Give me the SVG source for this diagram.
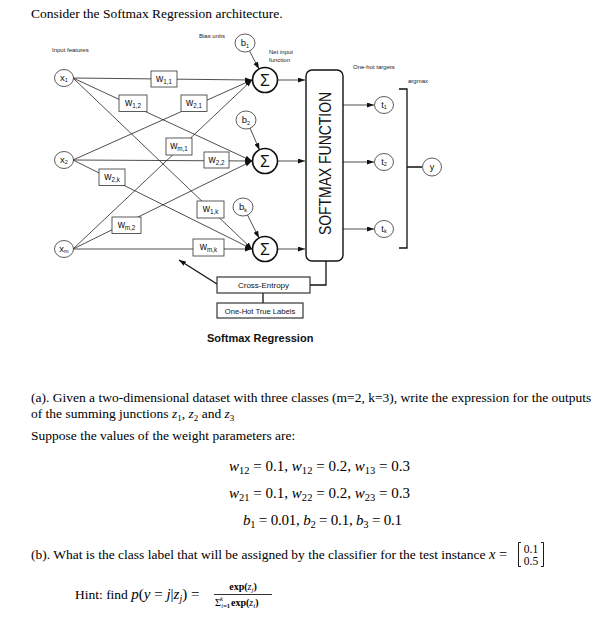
<svg xmlns="http://www.w3.org/2000/svg" width="606" height="622" viewBox="0 0 606 622">
<defs>
<marker id="ah" markerWidth="7" markerHeight="6" refX="7" refY="2.5" orient="auto" markerUnits="userSpaceOnUse">
<path d="M0,0 L7,2.5 L0,5 z" fill="#111"/>
</marker>
<style>
.ln{stroke:#222;stroke-width:0.8;fill:none}
.lt{stroke:#111;stroke-width:1.3;fill:none}
.ar{marker-end:url(#ah)}
.in{fill:#fff;stroke:#333;stroke-width:0.8}
.sig{fill:#fff;stroke:#111;stroke-width:1.6}
.wb{fill:#fff;stroke:#333;stroke-width:0.8}
.bx{fill:#fff;stroke:#222;stroke-width:1.1}
.lbl{font-family:"Liberation Sans",Arial,sans-serif;fill:#111}
.tiny{font-family:"Liberation Sans",Arial,sans-serif;font-size:6px;fill:#222}
.body{font-family:"Liberation Serif","Times New Roman",serif;font-size:13.5px;fill:#000}
.math{font-family:"Liberation Serif","Times New Roman",serif;fill:#000}
.it{font-style:italic}
</style>
</defs>
<rect width="606" height="622" fill="#fff"/>

<text class="body" x="31" y="18">Consider the Softmax Regression architecture.</text>

<text class="tiny" x="52" y="52" font-size="6.2">Input features</text>
<text class="tiny" x="199" y="38" font-size="5.6">Bias units</text>
<text class="tiny" x="269" y="54">Net input</text>
<text class="tiny" x="269" y="62">function</text>
<text class="tiny" x="353" y="69">One-hot targets</text>
<text class="tiny" x="408" y="83">argmax</text>

<g id="connectors">
<line class="ln ar" x1="73" y1="78" x2="252" y2="80"/>
<line class="ln ar" x1="73" y1="78" x2="252" y2="161"/>
<line class="ln ar" x1="73" y1="78" x2="252" y2="249"/>
<line class="ln ar" x1="73" y1="160" x2="252" y2="80"/>
<line class="ln ar" x1="73" y1="160" x2="252" y2="161"/>
<line class="ln ar" x1="73" y1="160" x2="252" y2="249"/>
<line class="ln ar" x1="73" y1="249" x2="252" y2="80"/>
<line class="ln ar" x1="73" y1="249" x2="252" y2="161"/>
<line class="ln ar" x1="73" y1="249" x2="252" y2="249"/>
<line class="ln ar" x1="249.5" y1="51" x2="259" y2="69"/>
<line class="ln ar" x1="250" y1="128" x2="259.5" y2="150"/>
<line class="ln ar" x1="247.5" y1="215" x2="259" y2="238"/>
<line class="ln ar" x1="278" y1="80" x2="305" y2="80"/>
<line class="ln ar" x1="278" y1="161" x2="305" y2="161"/>
<line class="ln ar" x1="278" y1="249" x2="305" y2="249"/>
<line class="ln ar" x1="343" y1="105" x2="374" y2="105"/>
<line class="ln ar" x1="343" y1="162" x2="374" y2="162"/>
<line class="ln ar" x1="343" y1="229" x2="374" y2="229"/>
<path class="lt" d="M399,89 H407 V248 H399 M407,167 H422"/>
<line class="lt ar" x1="217" y1="284" x2="179" y2="260"/>
<path class="lt" d="M310,285 H326 V261"/>
<line class="lt" x1="263" y1="293" x2="263" y2="303"/>
</g>

<g id="x1"><ellipse class="in" cx="64" cy="78" rx="9.5" ry="8.5"/><text class="lbl" x="64" y="80.5" font-size="9.5" text-anchor="middle">x<tspan font-size="5.5" dy="1.5">1</tspan></text></g>
<g id="x2"><ellipse class="in" cx="64" cy="160" rx="9.5" ry="8.5"/><text class="lbl" x="64" y="162.5" font-size="9.5" text-anchor="middle">x<tspan font-size="5.5" dy="1.5">2</tspan></text></g>
<g id="xm"><ellipse class="in" cx="64" cy="249" rx="9.5" ry="8.5"/><text class="lbl" x="64" y="251.5" font-size="9.5" text-anchor="middle">x<tspan font-size="5.5" dy="1.5">m</tspan></text></g>

<g id="w11"><rect class="wb" x="151" y="71" width="26" height="16"/><text class="lbl" x="164" y="81.5" font-size="10" text-anchor="middle">w<tspan font-size="6.3" dy="2">1,1</tspan></text></g>
<g id="w12"><rect class="wb" x="119" y="95" width="28" height="16.5"/><text class="lbl" x="133" y="105.5" font-size="10" text-anchor="middle">w<tspan font-size="6.3" dy="2">1,2</tspan></text></g>
<g id="w21"><rect class="wb" x="181" y="95" width="26" height="16.5"/><text class="lbl" x="194" y="105.5" font-size="10" text-anchor="middle">w<tspan font-size="6.3" dy="2">2,1</tspan></text></g>
<g id="wm1"><rect class="wb" x="166" y="138" width="26" height="17"/><text class="lbl" x="179" y="148.5" font-size="10" text-anchor="middle">w<tspan font-size="6.3" dy="2">m,1</tspan></text></g>
<g id="w22"><rect class="wb" x="204" y="152" width="25" height="16"/><text class="lbl" x="216.5" y="162.5" font-size="10" text-anchor="middle">w<tspan font-size="6.3" dy="2">2,2</tspan></text></g>
<g id="w2k"><rect class="wb" x="99" y="169" width="26" height="16.5"/><text class="lbl" x="112" y="179.5" font-size="10" text-anchor="middle">w<tspan font-size="6.3" dy="2">2,k</tspan></text></g>
<g id="w1k"><rect class="wb" x="197" y="201" width="27" height="17"/><text class="lbl" x="210.5" y="211.5" font-size="10" text-anchor="middle">w<tspan font-size="6.3" dy="2">1,k</tspan></text></g>
<g id="wm2"><rect class="wb" x="112" y="217" width="29" height="16.5"/><text class="lbl" x="126.5" y="227.5" font-size="10" text-anchor="middle">w<tspan font-size="6.3" dy="2">m,2</tspan></text></g>
<g id="wmk"><rect class="wb" x="193" y="239" width="31" height="17"/><text class="lbl" x="208.5" y="249.5" font-size="10" text-anchor="middle">w<tspan font-size="6.3" dy="2">m,k</tspan></text></g>

<g id="b1"><ellipse class="in" cx="245" cy="43" rx="10" ry="9"/><text class="lbl" x="245" y="46" font-size="9.5" text-anchor="middle">b<tspan font-size="5.5" dy="1.5">1</tspan></text></g>
<g id="b2"><ellipse class="in" cx="246" cy="120" rx="10" ry="9"/><text class="lbl" x="246" y="123" font-size="9.5" text-anchor="middle">b<tspan font-size="5.5" dy="1.5">2</tspan></text></g>
<g id="bk"><ellipse class="in" cx="243" cy="207" rx="10" ry="9"/><text class="lbl" x="243" y="210" font-size="9.5" text-anchor="middle">b<tspan font-size="5.5" dy="1.5">k</tspan></text></g>

<g id="sum1"><circle class="sig" cx="265" cy="80" r="12.5"/><text class="lbl" x="265" y="86" font-size="16" text-anchor="middle">Σ</text></g>
<g id="sum2"><circle class="sig" cx="265" cy="161" r="12.5"/><text class="lbl" x="265" y="167" font-size="16" text-anchor="middle">Σ</text></g>
<g id="sumk"><circle class="sig" cx="265" cy="249" r="12.5"/><text class="lbl" x="265" y="255" font-size="16" text-anchor="middle">Σ</text></g>

<g id="softmax"><rect x="306" y="70" width="37" height="191" rx="6" fill="#fff" stroke="#111" stroke-width="1.4"/><text class="lbl" transform="translate(331,163.5) rotate(-90)" font-size="16" text-anchor="middle" textLength="143" lengthAdjust="spacingAndGlyphs">SOFTMAX FUNCTION</text></g>

<g id="t1"><ellipse class="in" cx="384" cy="105" rx="9.5" ry="8.5"/><text class="lbl" x="384" y="107.5" font-size="9" text-anchor="middle">t<tspan font-size="5.5" dy="1.5">1</tspan></text></g>
<g id="t2"><ellipse class="in" cx="384" cy="162" rx="9.5" ry="8.5"/><text class="lbl" x="384" y="164.5" font-size="9" text-anchor="middle">t<tspan font-size="5.5" dy="1.5">2</tspan></text></g>
<g id="tk"><ellipse class="in" cx="384" cy="229" rx="9.5" ry="8.5"/><text class="lbl" x="384" y="231.5" font-size="9" text-anchor="middle">t<tspan font-size="5.5" dy="1.5">k</tspan></text></g>
<g id="y"><ellipse class="in" cx="432" cy="167" rx="9.5" ry="9"/><text class="lbl" x="432" y="170" font-size="9" text-anchor="middle">y</text></g>

<g id="crossentropy"><rect class="bx" x="217" y="277" width="93" height="16"/><text class="lbl" x="263.5" y="288" font-size="8" text-anchor="middle">Cross-Entropy</text></g>
<g id="onehot"><rect class="bx" x="217" y="303" width="86" height="15"/><text class="lbl" x="260" y="313.5" font-size="7.6" text-anchor="middle">One-Hot True Labels</text></g>

<text class="lbl" x="207" y="342" font-size="11" font-weight="bold">Softmax Regression</text>

<text class="body" x="31" y="402">(a). Given a two-dimensional dataset with three classes (m=2, k=3), write the expression for the outputs</text>
<text class="body" x="31" y="418">of the summing junctions <tspan class="it" font-size="13.5">z</tspan><tspan font-size="9" dy="2.5">1</tspan><tspan dy="-2.5">, </tspan><tspan class="it" font-size="13.5">z</tspan><tspan font-size="9" dy="2.5">2</tspan><tspan dy="-2.5"> and </tspan><tspan class="it" font-size="13.5">z</tspan><tspan font-size="9" dy="2.5">3</tspan></text>
<text class="body" x="31" y="440">Suppose the values of the weight parameters are:</text>

<text class="math" x="229" y="471" font-size="15" textLength="181"><tspan class="it">w</tspan><tspan font-size="10.5" dy="3">12</tspan><tspan dy="-3"> = 0.1, </tspan><tspan class="it">w</tspan><tspan font-size="10.5" dy="3">12</tspan><tspan dy="-3"> = 0.2, </tspan><tspan class="it">w</tspan><tspan font-size="10.5" dy="3">13</tspan><tspan dy="-3"> = 0.3</tspan></text>
<text class="math" x="229" y="498" font-size="15" textLength="181"><tspan class="it">w</tspan><tspan font-size="10.5" dy="3">21</tspan><tspan dy="-3"> = 0.1, </tspan><tspan class="it">w</tspan><tspan font-size="10.5" dy="3">22</tspan><tspan dy="-3"> = 0.2, </tspan><tspan class="it">w</tspan><tspan font-size="10.5" dy="3">23</tspan><tspan dy="-3"> = 0.3</tspan></text>
<text class="math" x="243" y="525" font-size="15" textLength="159"><tspan class="it">b</tspan><tspan font-size="10.5" dy="3">1</tspan><tspan dy="-3"> = 0.01, </tspan><tspan class="it">b</tspan><tspan font-size="10.5" dy="3">2</tspan><tspan dy="-3"> = 0.1, </tspan><tspan class="it">b</tspan><tspan font-size="10.5" dy="3">3</tspan><tspan dy="-3"> = 0.1</tspan></text>

<text class="body" x="31" y="559">(b). What is the class label that will be assigned by the classifier for the test instance <tspan class="it" font-size="14.5">x</tspan><tspan font-size="14.5"> = </tspan></text>
<path d="M521,542.5 H518.5 V566.5 H521 M541,542.5 H543.5 V566.5 H541" fill="none" stroke="#000" stroke-width="0.9"/>
<text class="math" x="531" y="553" font-size="11.5" text-anchor="middle">0.1</text>
<text class="math" x="531" y="565" font-size="11.5" text-anchor="middle">0.5</text>

<text class="body" x="75" y="599">Hint: find <tspan class="it" font-size="15">p</tspan><tspan font-size="15">(</tspan><tspan class="it" font-size="15">y</tspan><tspan font-size="15"> = </tspan><tspan class="it" font-size="15">j</tspan><tspan font-size="15">|</tspan><tspan class="it" font-size="15">z</tspan><tspan class="it" font-size="10" dy="2.5">j</tspan><tspan font-size="15" dy="-2.5">) =</tspan></text>
<text class="math" x="243" y="590" font-size="10" font-weight="bold" text-anchor="middle">exp(<tspan class="it" font-weight="normal">z</tspan><tspan class="it" font-weight="normal" font-size="7" dy="2">j</tspan><tspan dy="-2">)</tspan></text>
<line x1="214" y1="594.5" x2="272" y2="594.5" stroke="#000" stroke-width="0.8"/>
<text class="math" x="215" y="605.5" font-size="10">Σ<tspan class="it" font-size="6.5" dx="0.5" dy="2">i</tspan><tspan font-size="6.5" font-weight="bold">=1</tspan><tspan class="it" font-size="6.5" dx="-10" dy="-7">k</tspan><tspan font-weight="bold" dx="8" dy="5">exp(</tspan><tspan class="it">z</tspan><tspan class="it" font-size="7" dy="2">i</tspan><tspan font-weight="bold" dy="-2">)</tspan></text>
</svg>
